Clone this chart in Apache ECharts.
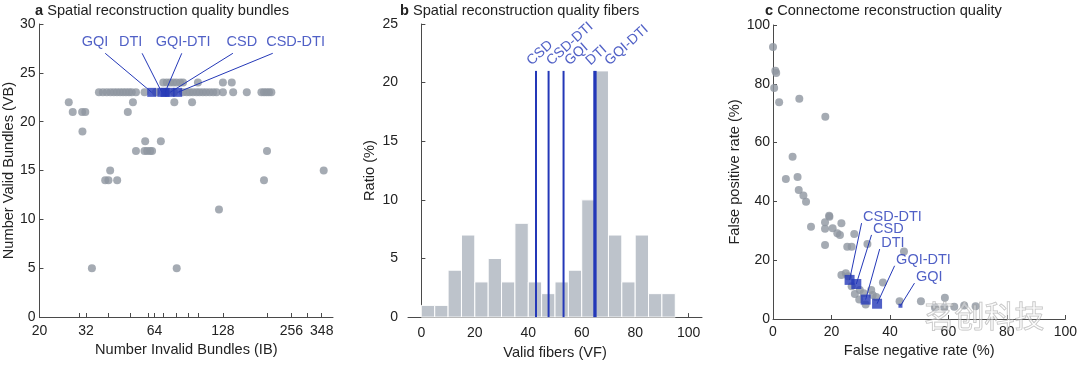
<!DOCTYPE html>
<html><head><meta charset="utf-8">
<script src="https://cdn.jsdelivr.net/npm/echarts@6/dist/echarts.min.js"></script>
<style>html,body{margin:0;padding:0;background:#fff}#c{width:1080px;height:365px}</style>
</head><body><div id="c"></div>
<script>
// ---------- Panel a: bundles ----------
const invalidBundles = [
  36.5, 38, 39.5, 41, 42.4, 43.8, 45.2, 46.6, 48, 49.5, 50.9, 53.1, 57.9, 65, 72, 78, 85.5, 88.7, 91.5, 94.5, 98, 101, 104.5, 108, 112, 116, 120, 128, 142, 163, 189, 194, 199, 204, 209,
  70, 72.5, 75, 77.5, 80, 83, 85.5, 99.4, 128, 140,
  26.9, 51.5, 78.3, 93.7,
  28.0, 30.8, 31.8, 48.9,
  30.9,
  58.3, 68.3,
  53.1, 57.9, 59.5, 61.3, 62.5, 200,
  40.9, 355,
  38.9, 40.2, 43.9, 194,
  123,
  34.0, 80.2
];
const validBundles = [
  23, 23, 23, 23, 23, 23, 23, 23, 23, 23, 23, 23, 23, 23, 23, 23, 23, 23, 23, 23, 23, 23, 23, 23, 23, 23, 23, 23, 23, 23, 23, 23, 23, 23, 23,
  24, 24, 24, 24, 24, 24, 24, 24, 24, 24,
  22, 22, 22, 22,
  21, 21, 21, 21,
  19,
  18, 18,
  17, 17, 17, 17, 17, 17,
  15, 15,
  14, 14, 14, 14,
  11,
  5, 5
];
const methodNames = ['GQI', 'DTI', 'GQI-DTI', 'CSD', 'CSD-DTI'];
const methodIB = [62.3, 69, 71.3, 75, 81];
const methodVB = [23, 23, 23, 23, 23];
const ibLabelTicks = [20, 32, 64, 128, 256, 348];
const ibMinorTicks = [30, 40, 50, 60, 70, 80, 90, 100, 200, 300];
// annotation anchors (data coords) for panel a
const aLabelIB = [35.1, 50.3, 85.5, 155, 267];
const aLabelVB = 28.2;
const aLeaderIB = [38.9, 56.5, 84.4, 141.6, 212];
const aLeaderVB = 27.0;

// ---------- Panel b: fibers histogram ----------
const binStart = [0, 5, 10, 15, 20, 25, 30, 35, 40, 45, 50, 55, 60, 65, 70, 75, 80, 85, 90];
const binWidth = 5;
const ratioPct = [1, 1, 4, 7, 3, 5, 3, 8, 3, 2, 3, 4, 10, 21, 7, 3, 7, 2, 2];
const fiberMethods = ['CSD', 'CSD-DTI', 'GQI', 'DTI', 'GQI-DTI'];
const fiberVF = [42.9, 47.6, 53.2, 64.7, 65.2];
const fiberLineTop = 21;
const fiberLabelVF = [42.2, 49.6, 56.4, 64.3, 71.4];
const fiberLabelY = 21.2;
const vfTicks = [0, 20, 40, 60, 80, 100];

// ---------- Panel c: connectome ----------
const falseNeg = [0, 0.8, 1.1, 0.4, 2.1, 9.0, 17.9, 6.7, 4.4, 8.4, 8.8, 10.4, 11.3, 19.3, 13.0, 17.8, 17.8, 20.4, 22.0, 22.9, 23.4, 17.8, 25.4, 26.9, 27.8, 32.3, 44.8, 23.4, 24.9, 25.7, 26.9, 28.0, 29.7, 29.5, 31.0, 31.7, 33.6, 34.1, 35.3, 37.6, 43.3, 50.6, 55.4, 58.8, 58.6, 65.4, 69.3, 62.0, 19.2];
const falsePos = [92.5, 84.4, 83.7, 78.6, 73.7, 74.9, 68.8, 55.2, 47.6, 48.3, 43.9, 42.0, 39.9, 34.8, 31.4, 32.9, 30.7, 30.9, 29.2, 28.6, 32.6, 25.2, 24.6, 24.6, 28.9, 25.5, 23.0, 15.0, 15.6, 14.5, 11.1, 8.5, 9.9, 6.6, 8.8, 4.9, 9.9, 8.2, 7.5, 12.4, 6.0, 6.0, 3.9, 7.2, 3.9, 4.6, 4.3, 4.2, 35.1];
const connMethods = ['CSD-DTI', 'CSD', 'DTI', 'GQI-DTI', 'GQI'];
const connFN = [26.2, 28.5, 31.7, 35.6, 43.6];
const connFP = [13.3, 11.9, 6.6, 5.2, 4.5];
const cLeaderFN = [30.3, 33.7, 36.5, 41.6, 48.4];
const cLeaderFP = [32.6, 28.6, 23.8, 18.1, 12.2];

// ---------- styles ----------
const FONT = '"Liberation Sans", Arial, sans-serif';
const BLUE = '#2438b8';
const GREY = '#8f96a0';
const AX = '#4a4a4a';
const TXT = '#222';
const FS = 14;      // tick labels
const FN = 14.6;    // names, titles
const FL = 14.5;    // annotation labels
const lg2 = v => Math.log2(v);

function axisCommon(extra) {
  return Object.assign({
    axisLine: { show: true, lineStyle: { color: AX, width: 1 } },
    axisTick: { show: true, inside: true, length: 4, lineStyle: { color: AX } },
    splitLine: { show: false },
    axisLabel: { color: TXT, fontSize: FS, fontFamily: FONT },
    nameTextStyle: { color: TXT, fontSize: FN, fontFamily: FONT },
    nameLocation: 'middle'
  }, extra);
}

function segSeries(xi, segs) {
  return {
    type: 'custom', xAxisIndex: xi, yAxisIndex: xi, data: segs, z: 3, silent: true,
    encode: { x: [0, 2], y: [1, 3] },
    renderItem: (p, api) => {
      const a = api.coord([api.value(0), api.value(1)]);
      const b = api.coord([api.value(2), api.value(3)]);
      return { type: 'line', shape: { x1: a[0], y1: a[1], x2: b[0], y2: b[1] }, style: { stroke: BLUE, lineWidth: 1 } };
    }
  };
}

function titleOf(letter, text, left) {
  return { text: '{b|' + letter + '} ' + text, left: left, top: -2,
    textStyle: { fontSize: FN, fontWeight: 'normal', color: TXT, fontFamily: FONT,
      rich: { b: { fontWeight: 'bold', fontSize: FN, fontFamily: FONT, color: TXT } } } };
}

const chart = echarts.init(document.getElementById('c'), null, { renderer: 'canvas' });

const option = {
  animation: false,
  backgroundColor: '#fff',
  title: [
    titleOf('a', 'Spatial reconstruction quality bundles', 30),
    titleOf('b', 'Spatial reconstruction quality fibers', 395),
    titleOf('c', 'Connectome reconstruction quality', 760)
  ],
  grid: [
    { left: 39, top: 24, width: 294, height: 293 },
    { left: 408, top: 24, width: 294, height: 295 },
    { left: 773, top: 25, width: 294, height: 294 }
  ],
  xAxis: [
    axisCommon({ gridIndex: 0, type: 'value', min: lg2(20), max: lg2(390),
      name: 'Number Invalid Bundles (IB)', nameGap: 22,
      axisLabel: { color: TXT, fontSize: FS, fontFamily: FONT, margin: 7, customValues: ibLabelTicks.map(lg2), formatter: v => String(Math.round(Math.pow(2, v))) },
      axisTick: { show: true, inside: true, length: 4, lineStyle: { color: AX }, customValues: ibLabelTicks.concat(ibMinorTicks).map(lg2) } }),
    axisCommon({ gridIndex: 1, type: 'value', min: -5, max: 105,
      name: 'Valid fibers (VF)', nameGap: 26,
      axisLabel: { color: TXT, fontSize: FS, fontFamily: FONT, margin: 9, customValues: vfTicks },
      axisTick: { show: true, inside: true, length: 4, lineStyle: { color: AX }, customValues: vfTicks } }),
    axisCommon({ gridIndex: 2, type: 'value', min: 0, max: 100, interval: 20,
      name: 'False negative rate (%)', nameGap: 24,
      axisLabel: { color: TXT, fontSize: FS, fontFamily: FONT, margin: 6 } })
  ],
  yAxis: [
    axisCommon({ gridIndex: 0, type: 'value', min: 0, max: 30, interval: 5,
      name: 'Number Valid Bundles (VB)', nameGap: 19,
      axisLabel: { color: TXT, fontSize: FS, fontFamily: FONT, margin: 4 } }),
    axisCommon({ gridIndex: 1, type: 'value', min: 0, max: 25, interval: 5,
      name: 'Ratio (%)', nameGap: 31,
      axisLabel: { color: TXT, fontSize: FS, fontFamily: FONT, margin: 10 } }),
    axisCommon({ gridIndex: 2, type: 'value', min: 0, max: 100, interval: 20,
      name: 'False positive rate (%)', nameGap: 29,
      axisLabel: { color: TXT, fontSize: FS, fontFamily: FONT, margin: 3 } })
  ],
  graphic: [
    { type: 'text', left: 924, top: 300, z: 100, silent: true,
      style: { text: '茗创科技', font: '30px "Noto Sans CJK SC"', fill: 'rgba(255,255,255,0.35)', stroke: 'rgba(150,150,150,0.6)', lineWidth: 1 } }
  ],
  series: [
    // ---- panel a ----
    { type: 'scatter', xAxisIndex: 0, yAxisIndex: 0, symbol: 'circle', symbolSize: 8,
      itemStyle: { color: GREY },
      data: invalidBundles.map((v, i) => [lg2(v), validBundles[i]]) },
    segSeries(0, methodNames.map((n, i) => [lg2(aLeaderIB[i]), aLeaderVB, lg2(methodIB[i]), methodVB[i]])),
    { type: 'scatter', xAxisIndex: 0, yAxisIndex: 0, symbol: 'rect', symbolSize: 9, z: 4,
      itemStyle: { color: BLUE },
      data: methodIB.map((v, i) => [lg2(v), methodVB[i]]) },
    { type: 'scatter', xAxisIndex: 0, yAxisIndex: 0, symbolSize: 1, itemStyle: { color: 'rgba(0,0,0,0)' },
      label: { show: true, position: 'inside', color: BLUE, fontSize: FL, fontFamily: FONT, formatter: p => p.name },
      data: methodNames.map((n, i) => ({ name: n, value: [lg2(aLabelIB[i]), aLabelVB] })) },

    // ---- panel b ----
    { type: 'custom', xAxisIndex: 1, yAxisIndex: 1, encode: { x: [0, 1], y: 2 },
      data: binStart.map((s, i) => [s, s + binWidth, ratioPct[i]]),
      renderItem: (p, api) => {
        const tl = api.coord([api.value(0), api.value(2)]);
        const br = api.coord([api.value(1), 0]);
        return { type: 'rect', shape: { x: tl[0], y: tl[1], width: br[0] - tl[0], height: br[1] - tl[1] },
          style: { fill: '#bdc3cb', stroke: '#fff', lineWidth: 1 } };
      } },
    { type: 'custom', xAxisIndex: 1, yAxisIndex: 1, z: 3, encode: { x: 0, y: 1 },
      data: fiberVF.map(v => [v, fiberLineTop]),
      renderItem: (p, api) => {
        const t = api.coord([api.value(0), api.value(1)]);
        const b = api.coord([api.value(0), 0]);
        return { type: 'line', shape: { x1: t[0], y1: t[1], x2: b[0], y2: b[1] }, style: { stroke: BLUE, lineWidth: 2 } };
      } },
    { type: 'scatter', xAxisIndex: 1, yAxisIndex: 1, symbolSize: 1, itemStyle: { color: 'rgba(0,0,0,0)' },
      label: { show: true, position: [0, 0], align: 'left', verticalAlign: 'bottom', rotate: 42,
        color: BLUE, fontSize: 14, fontFamily: FONT, formatter: p => p.name },
      data: fiberMethods.map((n, i) => ({ name: n, value: [fiberLabelVF[i], fiberLabelY] })) },

    // ---- panel c ----
    { type: 'scatter', xAxisIndex: 2, yAxisIndex: 2, symbol: 'circle', symbolSize: 8,
      itemStyle: { color: GREY },
      data: falseNeg.map((v, i) => [v, falsePos[i]]) },
    segSeries(2, connMethods.map((n, i) => [cLeaderFN[i], cLeaderFP[i], connFN[i], connFP[i]])),
    { type: 'scatter', xAxisIndex: 2, yAxisIndex: 2, symbol: 'rect', z: 4,
      symbolSize: (v, p) => p.dataIndex === 4 ? 4 : 10,
      itemStyle: { color: BLUE },
      data: connFN.map((v, i) => [v, connFP[i]]) },
    { type: 'scatter', xAxisIndex: 2, yAxisIndex: 2, symbolSize: 1, itemStyle: { color: 'rgba(0,0,0,0)' },
      label: { show: true, position: 'right', distance: 1, offset: [0, -6], color: BLUE, fontSize: FL, fontFamily: FONT, formatter: p => p.name },
      data: connMethods.map((n, i) => ({ name: n, value: [cLeaderFN[i], cLeaderFP[i]] })) }
  ]
};
chart.setOption(option);
</script>
</body></html>
